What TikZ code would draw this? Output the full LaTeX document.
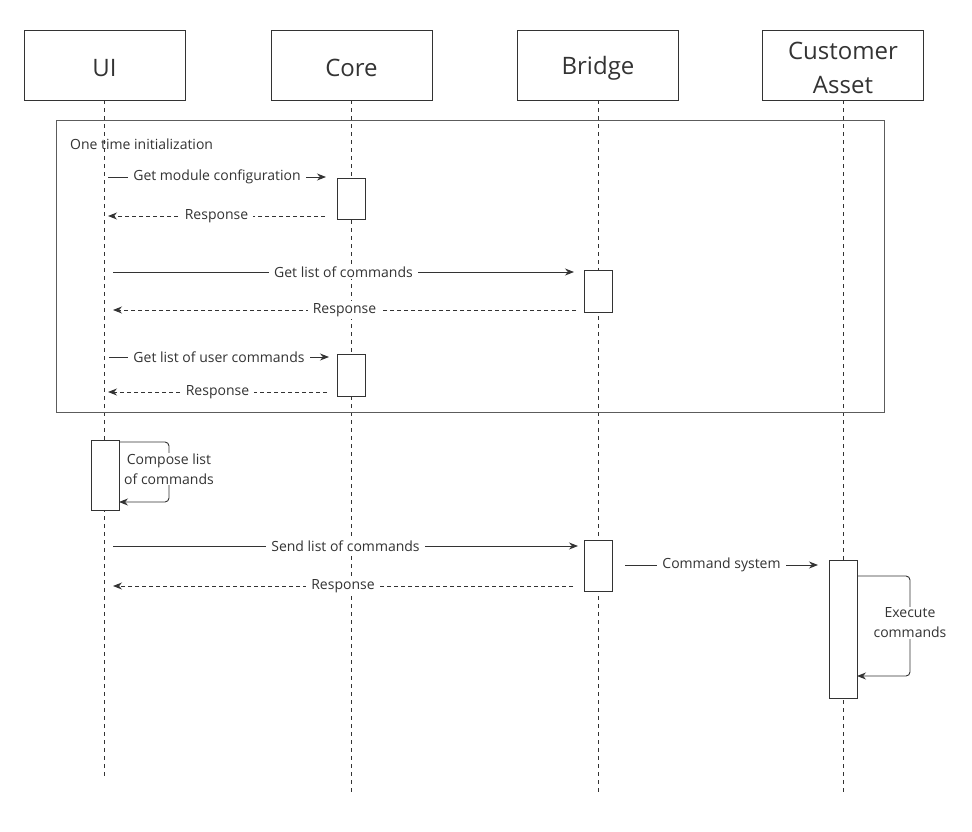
\documentclass[tikz,border=0pt]{standalone}
\usepackage{fontspec}
\setmainfont{Open Sans}
\usetikzlibrary{arrows.meta,positioning}
\definecolor{ink}{HTML}{333333}
\tikzset{
  head/.style={draw=ink, rectangle, minimum width=161pt, minimum height=70pt, inner sep=0pt},
  headtxt/.style={align=center, inner sep=0pt, text=ink, yshift=-3pt, font=\fontsize{24}{34}\selectfont},
  life/.style={draw=ink, dash pattern=on 4pt off 4pt},
  act/.style={draw=ink, fill=white, rectangle, minimum width=28pt, inner sep=0pt},
  grp/.style={draw=ink!80, rectangle, inner sep=0pt},
  msg/.style={-{Stealth[length=9pt,width=7pt]}, draw=ink, line width=0.9pt},
  ret/.style={msg, dash pattern=on 4pt off 3pt},
  lbl/.style={font=\fontsize{14}{20}\selectfont, fill=white, inner xsep=5pt, inner ysep=2pt, midway, text=ink},
  note/.style={font=\fontsize{14}{20}\selectfont, fill=white, inner sep=1pt, align=center, text=ink}
}
\begin{document}
\begin{tikzpicture}[x=1pt, y=-1pt]
\useasboundingbox (0,0) rectangle (972,832);
% lifelines
\foreach \n/\x/\e/\t in {ui/104.5/780/UI, core/351.5/792/Core, bridge/598/792/Bridge, asset/843/792/Customer\\Asset} {
  \node[head, label={[headtxt]center:{\t}}] (\n) at (\x,65) {};
  \coordinate (\n end) at (\x,\e);
  \draw[life] (\n.south) -- (\n end);
}
% one time initialization
\node[grp, minimum width=828pt, minimum height=292pt] (init) at (470,266) {};
\node[anchor=west, font=\fontsize{14}{16}\selectfont, text=ink, inner sep=0pt] (initlbl) at (70,144) {One time initialization};
% activations
\node[act, minimum height=41pt] (coreA) at (351,198.5) {};
\node[act, minimum height=42pt] (bridgeA) at (598,291) {};
\node[act, minimum height=42pt] (coreB) at (351,375) {};
\node[act, minimum height=70pt] (uiA) at (105,475) {};
\node[act, minimum height=51pt] (bridgeB) at (598,565.5) {};
\node[act, minimum height=138pt] (assetA) at (843,629) {};
% message ends
\coordinate (m1a) at (108,177);   \coordinate (m1b) at (326,177);
\coordinate (r1a) at (325,216);   \coordinate (r1b) at (108,216);
\coordinate (m2a) at (113,272);   \coordinate (m2b) at (574,272);
\coordinate (r2a) at (576,310);   \coordinate (r2b) at (113,310);
\coordinate (m3a) at (109,357);   \coordinate (m3b) at (329,357);
\coordinate (r3a) at (327,392);   \coordinate (r3b) at (108,392);
\coordinate (m4a) at (113,546);   \coordinate (m4b) at (578,546);
\coordinate (r4a) at (573,586);   \coordinate (r4b) at (113,586);
\coordinate (m5a) at (625,565);   \coordinate (m5b) at (818,565);
\draw[msg] (m1a) -- node[lbl]{Get module configuration} (m1b);
\draw[ret] (r1a) -- node[lbl]{Response} (r1b);
\draw[msg] (m2a) -- node[lbl]{Get list of commands} (m2b);
\draw[ret] (r2a) -- node[lbl]{Response} (r2b);
\draw[msg] (m3a) -- node[lbl]{Get list of user commands} (m3b);
\draw[ret] (r3a) -- node[lbl]{Response} (r3b);
\draw[msg] (m4a) -- node[lbl]{Send list of commands} (m4b);
\draw[ret] (r4a) -- node[lbl]{Response} (r4b);
\draw[msg] (m5a) -- node[lbl]{Command system} (m5b);
% self calls
\coordinate (s1a) at (119,442); \coordinate (s1b) at (119,502);
\draw[msg, rounded corners=4pt] (s1a) -- (169,442) -- (169,502) -- (s1b);
\node[note] (s1lbl) at (169,469) {Compose list\\of commands};
\coordinate (s2a) at (857,576); \coordinate (s2b) at (857,676);
\draw[msg, rounded corners=4pt] (s2a) -- (910,576) -- (910,676) -- (s2b);
\node[note] (s2lbl) at (910,623) {Execute\\commands};
\end{tikzpicture}
\end{document}
